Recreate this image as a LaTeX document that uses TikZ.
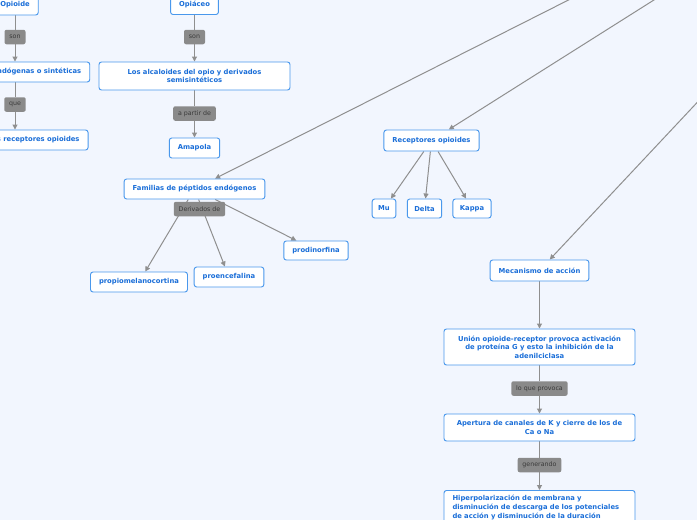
\documentclass[tikz,border=0pt]{standalone}
\usepackage{fontspec}
\setsansfont{DejaVu Sans}
\usepackage{tikz}
\usetikzlibrary{arrows.meta,backgrounds}
\definecolor{canvas}{HTML}{F2F6FE}
\definecolor{frame}{HTML}{4A98EC}
\definecolor{ink}{HTML}{1A6ED8}
\definecolor{tagfill}{HTML}{8A8A8A}
\definecolor{tagink}{HTML}{3A3A3A}
\definecolor{wire}{HTML}{8F8F8F}
\tikzset{
  concept/.style={draw=frame,fill=white,rounded corners=2.5pt,line width=0.95pt,
    font=\sffamily\bfseries\fontsize{6.8}{8.6}\selectfont,text=ink,align=center,
    inner xsep=8.5pt,inner ysep=0pt,minimum height=20pt},
  linker/.style={fill=tagfill,rounded corners=2pt,font=\sffamily\fontsize{6.3}{7.5}\selectfont,
    text=tagink,inner xsep=4.8pt,inner ysep=0pt,minimum height=14.5pt,minimum width=21pt},
  link/.style={draw=wire,line width=1pt},
  arrowlink/.style={link,-{Triangle[length=5pt,width=5pt]}}
}

\begin{document}
\begin{tikzpicture}[x=1pt,y=-1pt]
  \useasboundingbox (0,0) rectangle (697,520);
  \clip (0,0) rectangle (697,520);
  \begin{scope}[on background layer]
    \fill[canvas] (0,0) rectangle (697,520);
  \end{scope}

  % central topic sits off the visible area
  \coordinate (centro) at (996,-216);

  % columna opioide
  \node[concept] (opioide) at (15,5) {Opioide};
  \node[linker] (son1) at (15,37) {son};
  \node[concept] (sustancias) at (15,72) {Sustancias endógenas o sintéticas};
  \node[linker] (que) at (15,104.5) {que};
  \node[concept] (unen) at (15,140) {se unen a los receptores opioides};

  % columna opiaceo
  \node[concept] (opiaceo) at (194.5,4.5) {Opiáceo};
  \node[linker] (son2) at (194.5,37) {son};
  \node[concept,minimum width=191pt,minimum height=28pt] (alcaloides) at (194.5,76)
    {Los alcaloides del opio y derivados\\semisintéticos};
  \node[linker] (apartir) at (194.5,113.5) {a partir de};
  \node[concept] (amapola) at (194.5,148) {Amapola};

  % familias
  \node[concept] (familias) at (194.5,189) {Familias de péptidos endógenos};
  \node[linker] (derivados) at (199.5,209) {Derivados de};
  \node[concept] (propio) at (139,282) {propiomelanocortina};
  \node[concept] (proence) at (229,277) {proencefalina};
  \node[concept,minimum height=19pt] (prodin) at (316,250.5) {prodinorfina};

  % receptores
  \node[concept,minimum height=21pt] (receptores) at (431.5,140.5) {Receptores opioides};
  \node[concept,minimum height=19pt,inner xsep=6pt] (mu) at (384,208.5) {Mu};
  \node[concept,minimum height=19pt,inner xsep=7pt] (delta) at (424.5,208.5) {Delta};
  \node[concept,minimum height=19pt,inner xsep=7pt] (kappa) at (472,208.5) {Kappa};

  % mecanismo
  \node[concept,minimum height=21pt] (mecanismo) at (539.5,270.5) {Mecanismo de acción};
  \node[concept,minimum width=191pt,minimum height=36pt] (union) at (539.5,347)
    {Unión opioide-receptor provoca activación\\de proteína G y esto la inhibición de la\\adenilciclasa};
  \node[linker] (loque) at (539.5,388.5) {lo que provoca};
  \node[concept,minimum width=191pt,minimum height=27pt] (apertura) at (539.5,427.5)
    {Apertura de canales de K y cierre de los de\\Ca o Na};
  \node[linker] (generando) at (539.5,465) {generando};
  \node[concept,anchor=north,minimum width=191pt,align=left,
    font=\sffamily\bfseries\fontsize{6.8}{8.8}\selectfont,
    text width=174pt,inner ysep=5pt] (hiper) at (539.5,490)
    {Hiperpolarización de membrana y\\disminución de descarga de los potenciales\\de acción y disminución de la duración};

  \begin{scope}[on background layer]
    \draw[arrowlink] (centro) -- (familias);
    \draw[arrowlink] (centro) -- (receptores);
    \draw[arrowlink] (centro) -- (mecanismo);

    \draw[link] (opioide) -- (son1);
    \draw[arrowlink] (son1) -- (sustancias);
    \draw[link] (sustancias) -- (que);
    \draw[arrowlink] (que) -- (unen);

    \draw[link] (opiaceo) -- (son2);
    \draw[arrowlink] (son2) -- (alcaloides);
    \draw[link] (alcaloides) -- (apartir);
    \draw[arrowlink] (apartir) -- (amapola);

    \foreach \hijo in {propio,proence,prodin}
      \draw[arrowlink] (familias) -- (\hijo);
    \foreach \hijo in {mu,delta,kappa}
      \draw[arrowlink] (receptores) -- (\hijo);

    \draw[arrowlink] (mecanismo) -- (union);
    \draw[link] (union) -- (loque);
    \draw[arrowlink] (loque) -- (apertura);
    \draw[link] (apertura) -- (generando);
    \draw[arrowlink] (generando) -- (hiper);
  \end{scope}
\end{tikzpicture}
\end{document}
